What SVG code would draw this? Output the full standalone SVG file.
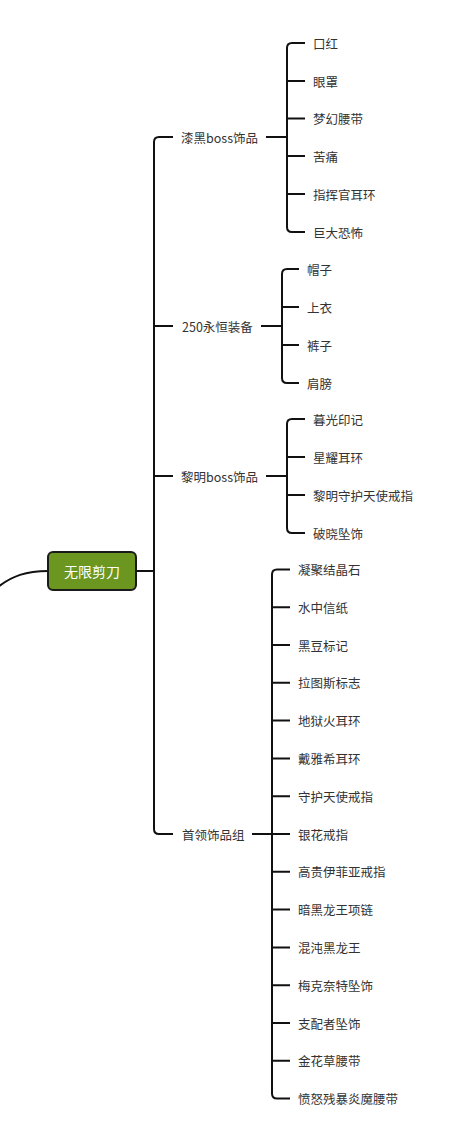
<svg xmlns="http://www.w3.org/2000/svg" width="474" height="1129" viewBox="0 0 474 1129">
<style>
.c{fill:none;stroke:#111;stroke-width:2;stroke-linecap:butt}
.t{font-family:"Noto Sans CJK SC","Microsoft YaHei",sans-serif;font-size:12.5px;fill:#333;dominant-baseline:central}
.r{font-family:"Noto Sans CJK SC","Microsoft YaHei",sans-serif;font-size:14px;fill:#fff;dominant-baseline:central;text-anchor:middle}
</style>
<rect width="474" height="1129" fill="#fff"/>
<g id="connectors">
<path class="c" d="M-2,587 C12,576 26,571 48,571"/>
<path class="c" d="M136,571 H154"/>
<path class="c" d="M173,137 H159 Q154,137 154,142 V829 Q154,834 159,834 H173"/>
<path class="c" d="M154,326 H173 M154,476 H173"/>
<path class="c" d="M266,137 H287"/>
<path class="c" d="M305,43 H292 Q287,43 287,48 V227 Q287,232 292,232 H305 M287,81 H305 M287,118.5 H305 M287,156 H305 M287,194 H305"/>
<path class="c" d="M261,326 H282"/>
<path class="c" d="M299,269 H287 Q282,269 282,274 V378 Q282,383 287,383 H299 M282,307 H299 M282,345 H299"/>
<path class="c" d="M266,476 H287"/>
<path class="c" d="M305,419 H292 Q287,419 287,424 V528 Q287,533 292,533 H305 M287,457 H305 M287,495 H305"/>
<path class="c" d="M252,834 H272"/>
<path class="c" d="M290,569.4 H277 Q272,569.4 272,574.4 V1093.6 Q272,1098.6 277,1098.6 H290 M272,607.2 H290 M272,645 H290 M272,682.8 H290 M272,720.6 H290 M272,758.4 H290 M272,796.2 H290 M272,834 H290 M272,871.8 H290 M272,909.6 H290 M272,947.4 H290 M272,985.2 H290 M272,1023 H290 M272,1060.8 H290"/>
</g>
<g id="root">
<rect x="48" y="552" width="88" height="38" rx="5" fill="#6b961f" stroke="#1a1a1a" stroke-width="2"/>
<text class="r" x="92" y="571">无限剪刀</text>
</g>
<g id="b1"><text class="t" x="181" y="137">漆黑boss饰品</text></g>
<g id="b1l1"><text class="t" x="313" y="43">口红</text></g>
<g id="b1l2"><text class="t" x="313" y="81">眼罩</text></g>
<g id="b1l3"><text class="t" x="313" y="118.5">梦幻腰带</text></g>
<g id="b1l4"><text class="t" x="313" y="156">苦痛</text></g>
<g id="b1l5"><text class="t" x="313" y="194">指挥官耳环</text></g>
<g id="b1l6"><text class="t" x="313" y="232">巨大恐怖</text></g>
<g id="b2"><text class="t" x="182" y="326">250永恒装备</text></g>
<g id="b2l1"><text class="t" x="307" y="269">帽子</text></g>
<g id="b2l2"><text class="t" x="307" y="307">上衣</text></g>
<g id="b2l3"><text class="t" x="307" y="345">裤子</text></g>
<g id="b2l4"><text class="t" x="307" y="383">肩膀</text></g>
<g id="b3"><text class="t" x="181" y="476">黎明boss饰品</text></g>
<g id="b3l1"><text class="t" x="313" y="419">暮光印记</text></g>
<g id="b3l2"><text class="t" x="313" y="457">星耀耳环</text></g>
<g id="b3l3"><text class="t" x="313" y="495">黎明守护天使戒指</text></g>
<g id="b3l4"><text class="t" x="313" y="533">破晓坠饰</text></g>
<g id="b4"><text class="t" x="182" y="834">首领饰品组</text></g>
<g id="b4l1"><text class="t" x="298" y="569.4">凝聚结晶石</text></g>
<g id="b4l2"><text class="t" x="298" y="607.2">水中信纸</text></g>
<g id="b4l3"><text class="t" x="298" y="645">黑豆标记</text></g>
<g id="b4l4"><text class="t" x="298" y="682.8">拉图斯标志</text></g>
<g id="b4l5"><text class="t" x="298" y="720.6">地狱火耳环</text></g>
<g id="b4l6"><text class="t" x="298" y="758.4">戴雅希耳环</text></g>
<g id="b4l7"><text class="t" x="298" y="796.2">守护天使戒指</text></g>
<g id="b4l8"><text class="t" x="298" y="834">银花戒指</text></g>
<g id="b4l9"><text class="t" x="298" y="871.8">高贵伊菲亚戒指</text></g>
<g id="b4l10"><text class="t" x="298" y="909.6">暗黑龙王项链</text></g>
<g id="b4l11"><text class="t" x="298" y="947.4">混沌黑龙王</text></g>
<g id="b4l12"><text class="t" x="298" y="985.2">梅克奈特坠饰</text></g>
<g id="b4l13"><text class="t" x="298" y="1023">支配者坠饰</text></g>
<g id="b4l14"><text class="t" x="298" y="1060.8">金花草腰带</text></g>
<g id="b4l15"><text class="t" x="298" y="1098.6">愤怒残暴炎魔腰带</text></g>
</svg>
